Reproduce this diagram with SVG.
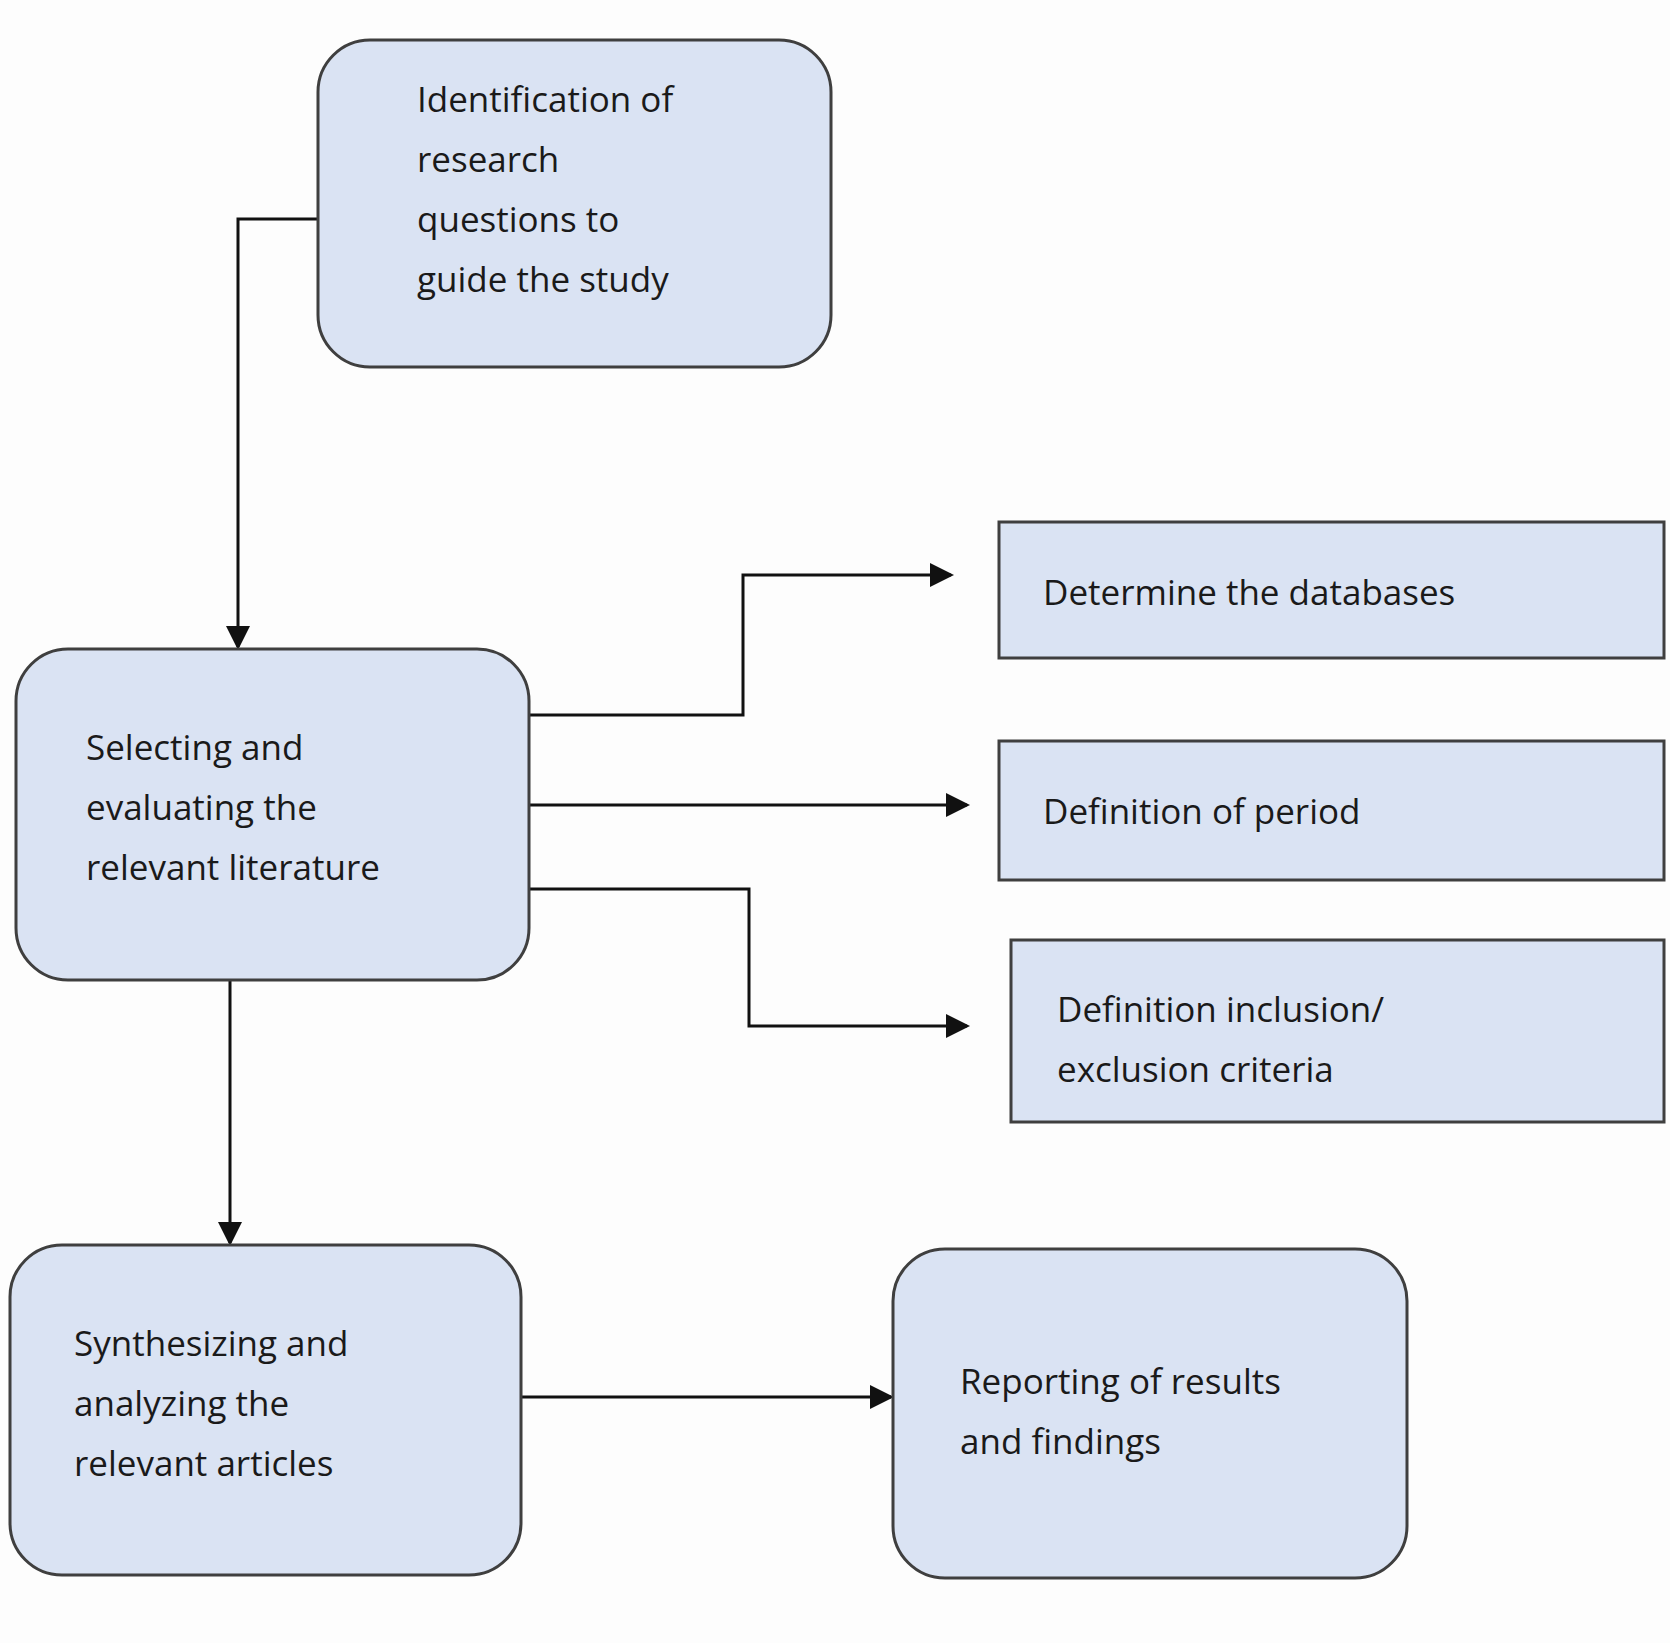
<svg xmlns="http://www.w3.org/2000/svg" width="1670" height="1643" viewBox="0 0 1670 1643">
<style>
.b{fill:#dae3f3;stroke:#3f3f3f;stroke-width:3}
.t{font-family:"Open Sans","Liberation Sans",sans-serif;font-size:35px;fill:#1a1a1a}
.c{fill:none;stroke:#111;stroke-width:3}
</style>
<defs><marker id="a" markerWidth="8" markerHeight="8" refX="7" refY="4" orient="auto" markerUnits="strokeWidth"><path d="M0,0L8,4L0,8z" fill="#111"/></marker></defs>
<rect width="1670" height="1643" fill="#fdfdfd"/>
<g id="connectors">
<path class="c" d="M318,219H238V647" marker-end="url(#a)"/>
<path class="c" d="M529,715H743V575H951" marker-end="url(#a)"/>
<path class="c" d="M529,805H967" marker-end="url(#a)"/>
<path class="c" d="M529,889H749V1026H967" marker-end="url(#a)"/>
<path class="c" d="M230,980V1243" marker-end="url(#a)"/>
<path class="c" d="M521,1397H891" marker-end="url(#a)"/>
</g>
<g id="n1"><rect class="b" x="318" y="40" width="513" height="327" rx="52"/>
<text class="t" x="417" y="112">Identification of</text><text class="t" x="417" y="172">research</text><text class="t" x="417" y="232">questions to</text><text class="t" x="417" y="292">guide the study</text></g>
<g id="n2"><rect class="b" x="16" y="649" width="513" height="331" rx="52"/>
<text class="t" x="86" y="760">Selecting and</text><text class="t" x="86" y="820">evaluating the</text><text class="t" x="86" y="880">relevant literature</text></g>
<g id="n3"><rect class="b" x="10" y="1245" width="511" height="330" rx="52"/>
<text class="t" x="74" y="1356">Synthesizing and</text><text class="t" x="74" y="1416">analyzing the</text><text class="t" x="74" y="1476">relevant articles</text></g>
<g id="n4"><rect class="b" x="893" y="1249" width="514" height="329" rx="52"/>
<text class="t" x="960" y="1394">Reporting of results</text><text class="t" x="960" y="1454">and findings</text></g>
<g id="n5"><rect class="b" x="999" y="522" width="665" height="136"/>
<text class="t" x="1043" y="605">Determine the databases</text></g>
<g id="n6"><rect class="b" x="999" y="741" width="665" height="139"/>
<text class="t" x="1043" y="824">Definition of period</text></g>
<g id="n7"><rect class="b" x="1011" y="940" width="653" height="182"/>
<text class="t" x="1057" y="1022">Definition inclusion/</text><text class="t" x="1057" y="1082">exclusion criteria</text></g>
</svg>
